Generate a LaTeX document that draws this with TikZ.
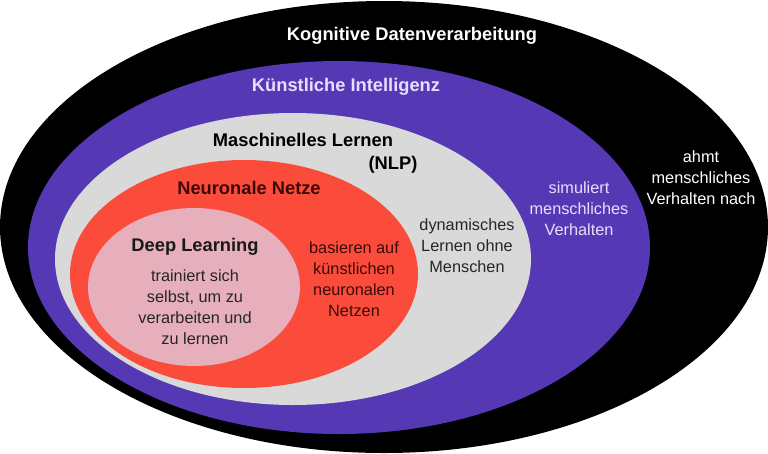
\documentclass[tikz,border=0pt]{standalone}
\usepackage{fontspec}
\setmainfont{Liberation Sans}
\definecolor{kdblack}{HTML}{000000}
\definecolor{kipurple}{HTML}{5538B4}
\definecolor{mlgray}{HTML}{D9D9D9}
\definecolor{nnred}{HTML}{FB4C3B}
\definecolor{dlpink}{HTML}{E6AFBB}
\definecolor{lavtext}{HTML}{E6DEFF}
\definecolor{darkred}{HTML}{3A0A08}
\tikzset{
  head/.style={font=\fontsize{18.3}{21}\selectfont\bfseries, inner sep=0pt, align=center},
  body/.style={font=\fontsize{16.3}{21.2}\selectfont, inner sep=0pt, align=center},
}
\begin{document}
\begin{tikzpicture}
\useasboundingbox (0pt,0pt) rectangle (768pt,-453pt);
\fill[white] (0pt,0pt) rectangle (768pt,-453pt);
% ellipses
\fill[kdblack] (384pt,-227pt) ellipse [x radius=384pt, y radius=226pt];
\fill[kipurple] (339pt,-247.5pt) ellipse [x radius=311pt, y radius=186.5pt];
\fill[mlgray] (293pt,-259pt) ellipse [x radius=238pt, y radius=146pt];
\fill[nnred] (244pt,-274pt) ellipse [x radius=174pt, y radius=114pt];
\fill[dlpink] (194pt,-287pt) ellipse [x radius=106pt, y radius=79pt];
% titles
\node[head, text=white] (kd) at (412pt,-36pt) {Kognitive Datenverarbeitung};
\node[head, text=lavtext] (ki) at (346pt,-87pt) {Künstliche Intelligenz};
\node[head, text=black] (ml) at (303pt,-140pt) {Maschinelles Lernen};
\node[head, text=black] (nlp) at (393pt,-165pt) {(NLP)};
\node[head, text=darkred] (nn) at (249pt,-188pt) {Neuronale Netze};
\node[head, text=black!90] (dl) at (195pt,-247pt) {Deep Learning};
% descriptions
\node[body, text=black!85, anchor=north] (dltext) at (195pt,-269pt) {trainiert sich\\selbst, um zu\\verarbeiten und\\zu lernen};
\node[body, text=darkred, anchor=north] (nntext) at (354pt,-241pt) {basieren auf\\künstlichen\\neuronalen\\Netzen};
\node[body, text=black!85, anchor=north] (mltext) at (467pt,-218pt) {dynamisches\\Lernen ohne\\Menschen};
\node[body, text=lavtext, anchor=north] (kitext) at (579pt,-181pt) {simuliert\\menschliches\\Verhalten};
\node[body, text=white, anchor=north] (kdtext) at (701pt,-150pt) {ahmt\\menschliches\\Verhalten nach};
\end{tikzpicture}
\end{document}
